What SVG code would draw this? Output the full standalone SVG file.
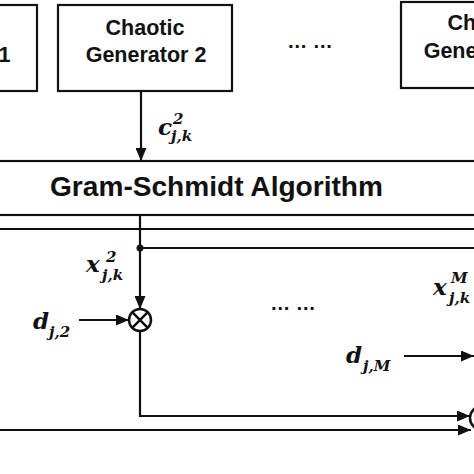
<svg xmlns="http://www.w3.org/2000/svg" width="474" height="474" viewBox="0 0 474 474">
<style>
.box{fill:#fff;stroke:#111;stroke-width:2.2}
.lbl{font-family:"Liberation Sans",Arial,sans-serif;font-weight:bold;font-size:21.5px;fill:#111}
.ln{fill:none;stroke:#111;stroke-width:2.2}
.m{font-family:"DejaVu Serif","Liberation Serif",serif;font-style:italic;font-weight:bold;fill:#111}
.big{font-size:23px}
.sm{font-size:15px}
.dots{font-family:"Liberation Sans",Arial,sans-serif;font-weight:bold;font-size:20px;fill:#111}
</style>
<defs>
<marker id="ah" viewBox="0 0 13 11" refX="13" refY="5.5" markerWidth="13" markerHeight="11" markerUnits="userSpaceOnUse" orient="auto">
<path d="M0,0 L13,5.5 L0,11 Z" fill="#111"/>
</marker>
</defs>
<rect width="474" height="474" fill="#fff"/>

<g id="gen1">
<rect class="box" x="-137" y="5" width="174" height="86"/>
<text class="lbl" x="-50" y="35" text-anchor="middle">Chaotic</text>
<text class="lbl" x="-50" y="62" text-anchor="middle">Generator 1</text>
</g>
<g id="gen2">
<rect class="box" x="58" y="5" width="174" height="86"/>
<text class="lbl" x="145" y="35" text-anchor="middle">Chaotic</text>
<text class="lbl" x="146" y="62" text-anchor="middle">Generator 2</text>
</g>
<g id="dots1"><text class="dots" x="310" y="48" text-anchor="middle">… …</text></g>
<g id="genM">
<rect class="box" x="401" y="2" width="174" height="86"/>
<text class="lbl" x="487" y="30" text-anchor="middle">Chaotic</text>
<text class="lbl" x="487" y="58" text-anchor="middle">Generator M</text>
</g>
<g id="gs">
<rect class="box" x="-10" y="161" width="494" height="54"/>
<text class="lbl" x="50" y="196" style="font-size:28px" textLength="333" lengthAdjust="spacingAndGlyphs">Gram-Schmidt Algorithm</text>
</g>
<g id="mult2">
<circle cx="140" cy="320" r="11" fill="#fff" stroke="#111" stroke-width="2.5"/>
<path d="M132.2,312.2 L147.8,327.8 M147.8,312.2 L132.2,327.8" stroke="#111" stroke-width="2.5"/>
</g>
<g id="dots2"><text class="dots" x="293" y="310" text-anchor="middle">… …</text></g>
<g id="sum">
<circle cx="482" cy="418" r="12" fill="#fff" stroke="#111" stroke-width="2.5"/>
<path d="M473.5,409.5 L490.5,426.5 M490.5,409.5 L473.5,426.5" stroke="#111" stroke-width="2.5"/>
</g>

<g id="connectors">
<line class="ln" x1="141" y1="91" x2="141" y2="161" marker-end="url(#ah)"/>
<line class="ln" x1="-5" y1="229" x2="479" y2="229"/>
<line class="ln" x1="140" y1="215" x2="140" y2="309" marker-end="url(#ah)"/>
<line class="ln" x1="140" y1="248" x2="479" y2="248"/>
<circle cx="140" cy="248" r="3.5" fill="#111"/>
<line class="ln" x1="79" y1="320" x2="129" y2="320" marker-end="url(#ah)"/>
<polyline class="ln" points="140,331 140,416 470,416" marker-end="url(#ah)"/>
<line class="ln" x1="-5" y1="430" x2="471" y2="430" marker-end="url(#ah)"/>
<line class="ln" x1="404" y1="356" x2="474" y2="356" marker-end="url(#ah)"/>
</g>

<g id="labels">
<text class="m big" x="158" y="135">c</text>
<text class="m sm" x="173" y="124">2</text>
<text class="m sm" x="171" y="141">j,k</text>

<text class="m big" x="86" y="272">x</text>
<text class="m sm" x="106" y="262">2</text>
<text class="m sm" x="102" y="280">j,k</text>

<text class="m big" x="33" y="329">d</text>
<text class="m sm" x="49" y="337">j,2</text>

<text class="m big" x="433" y="295">x</text>
<text class="m sm" x="451" y="283">M</text>
<text class="m sm" x="449" y="303">j,k</text>

<text class="m big" x="346" y="363">d</text>
<text class="m sm" x="363" y="371">j,M</text>
</g>
</svg>
